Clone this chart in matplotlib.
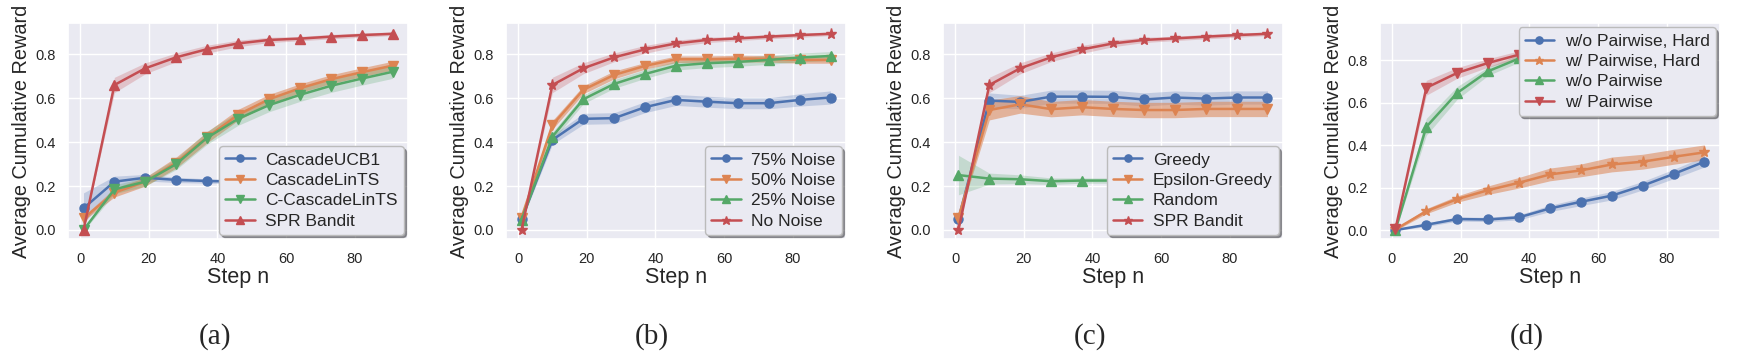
import numpy as np
import seaborn as sns
from matplotlib import pyplot as plt

sns.set_theme(style='darkgrid')
plt.rcParams['font.family'] = ['Liberation Sans', 'DejaVu Sans']

steps = [1, 10, 19, 28, 37, 46, 55, 64, 73, 82, 91]

# panel (a)
a_names = ['CascadeUCB1', 'CascadeLinTS', 'C-CascadeLinTS', 'SPR Bandit']
a_ucb = [0.099, 0.220, 0.238, 0.228, 0.223, 0.220, 0.218, 0.217, 0.216, 0.215, 0.214]
a_lints = [0.053, 0.170, 0.220, 0.307, 0.422, 0.524, 0.595, 0.645, 0.686, 0.718, 0.748]
a_clints = [0.000, 0.185, 0.220, 0.300, 0.420, 0.506, 0.568, 0.615, 0.656, 0.689, 0.720]
a_spr = [0.000, 0.660, 0.736, 0.786, 0.823, 0.849, 0.865, 0.871, 0.880, 0.887, 0.893]
a_ucb_err = [0.070, 0.025, 0.015, 0.012, 0.010, 0.010, 0.010, 0.010, 0.010, 0.010, 0.010]
a_lints_err = [0.010, 0.020, 0.020, 0.025, 0.025, 0.025, 0.022, 0.020, 0.020, 0.020, 0.020]
a_clints_err = [0.005, 0.020, 0.020, 0.025, 0.030, 0.030, 0.030, 0.030, 0.030, 0.030, 0.030]
a_spr_err = [0.000, 0.035, 0.025, 0.020, 0.018, 0.015, 0.012, 0.010, 0.010, 0.010, 0.008]

# panel (b)
b_names = ['75% Noise', '50% Noise', '25% Noise', 'No Noise']
b_75 = [0.050, 0.410, 0.506, 0.509, 0.559, 0.592, 0.584, 0.577, 0.577, 0.592, 0.603]
b_50 = [0.056, 0.478, 0.638, 0.706, 0.747, 0.777, 0.777, 0.780, 0.779, 0.774, 0.774]
b_25 = [0.046, 0.425, 0.595, 0.665, 0.710, 0.748, 0.759, 0.765, 0.774, 0.785, 0.792]
b_none = [0.000, 0.660, 0.736, 0.786, 0.822, 0.849, 0.865, 0.872, 0.880, 0.887, 0.893]
b_75_err = [0.010, 0.020, 0.025, 0.025, 0.025, 0.025, 0.025, 0.025, 0.025, 0.028, 0.030]
b_50_err = [0.010, 0.020, 0.018, 0.018, 0.015, 0.015, 0.015, 0.015, 0.015, 0.015, 0.015]
b_25_err = [0.010, 0.020, 0.020, 0.020, 0.020, 0.020, 0.020, 0.020, 0.020, 0.020, 0.020]
b_none_err = [0.000, 0.035, 0.025, 0.020, 0.018, 0.015, 0.012, 0.010, 0.010, 0.010, 0.008]

# panel (c)
c_names = ['Greedy', 'Epsilon-Greedy', 'Random', 'SPR Bandit']
c_greedy = [0.050, 0.589, 0.583, 0.607, 0.607, 0.606, 0.594, 0.603, 0.598, 0.603, 0.603]
c_eps = [0.056, 0.546, 0.572, 0.550, 0.559, 0.551, 0.546, 0.546, 0.551, 0.551, 0.551]
c_random = [0.250, 0.234, 0.231, 0.222, 0.225, 0.225, 0.224, 0.224, 0.224, 0.224, 0.224]
c_spr = [0.000, 0.660, 0.736, 0.786, 0.822, 0.849, 0.865, 0.872, 0.880, 0.887, 0.893]
c_greedy_err = [0.010, 0.035, 0.030, 0.030, 0.030, 0.030, 0.030, 0.030, 0.030, 0.030, 0.030]
c_eps_err = [0.010, 0.045, 0.040, 0.035, 0.035, 0.035, 0.035, 0.035, 0.035, 0.035, 0.035]
c_random_err = [0.090, 0.025, 0.020, 0.015, 0.012, 0.012, 0.012, 0.012, 0.012, 0.012, 0.012]
c_spr_err = [0.000, 0.035, 0.025, 0.020, 0.018, 0.015, 0.012, 0.010, 0.010, 0.010, 0.008]

# panel (d)
d_names = ['w/o Pairwise, Hard', 'w/ Pairwise, Hard', 'w/o Pairwise', 'w/ Pairwise']
d_wo_hard = [0.000, 0.025, 0.052, 0.050, 0.060, 0.102, 0.133, 0.162, 0.209, 0.264, 0.322]
d_w_hard = [0.003, 0.089, 0.146, 0.188, 0.223, 0.262, 0.281, 0.309, 0.322, 0.345, 0.366]
d_wo = [0.000, 0.486, 0.646, 0.748, 0.808, 0.840, 0.855, 0.865, 0.873, 0.880, 0.886]
d_w = [0.003, 0.670, 0.740, 0.787, 0.826, 0.850, 0.865, 0.872, 0.880, 0.887, 0.893]
d_wo_hard_err = [0.003, 0.008, 0.010, 0.010, 0.012, 0.015, 0.018, 0.020, 0.020, 0.022, 0.025]
d_w_hard_err = [0.005, 0.012, 0.015, 0.020, 0.025, 0.030, 0.030, 0.035, 0.035, 0.035, 0.035]
d_wo_err = [0.005, 0.040, 0.030, 0.020, 0.018, 0.015, 0.012, 0.010, 0.010, 0.010, 0.010]
d_w_err = [0.005, 0.035, 0.025, 0.020, 0.018, 0.015, 0.012, 0.010, 0.010, 0.010, 0.008]

colors = ['#4c72b0', '#dd8452', '#55a868', '#c44e52']

panels = [
    (a_names, [a_ucb, a_lints, a_clints, a_spr], [a_ucb_err, a_lints_err, a_clints_err, a_spr_err],
     ['o', 'v', 'v', '^'], 'lower right', (-0.041, 0.942), '(a)'),
    (b_names, [b_75, b_50, b_25, b_none], [b_75_err, b_50_err, b_25_err, b_none_err],
     ['o', 'v', '^', '*'], 'lower right', (-0.041, 0.942), '(b)'),
    (c_names, [c_greedy, c_eps, c_random, c_spr], [c_greedy_err, c_eps_err, c_random_err, c_spr_err],
     ['o', 'v', '^', '*'], 'lower right', (-0.041, 0.942), '(c)'),
    (d_names, [d_wo_hard, d_w_hard, d_wo, d_w], [d_wo_hard_err, d_w_hard_err, d_wo_err, d_w_err],
     ['o', '*', '^', 'v'], 'upper right', (-0.042, 0.975), '(d)'),
]

lefts = [0.039, 0.290, 0.5404, 0.7908]
cap_x = [0.1232, 0.3736, 0.6246, 0.875]
band_alpha = [0.25, 0.55, 0.25, 0.25]

fig = plt.figure(figsize=(17.45, 3.52), dpi=100)
x = np.array(steps)
for i, (names, ys, errs, markers, loc, ylim, cap) in enumerate(panels):
    ax = fig.add_axes([lefts[i], 0.321, 0.1948, 0.6136])
    for j in range(4):
        y = np.array(ys[j])
        e = np.array(errs[j])
        ax.fill_between(x, y - e, y + e, color=colors[j], alpha=band_alpha[j], linewidth=0)
        ms = 8 if markers[j] == '*' else 6.5
        ax.plot(x, y, marker=markers[j], color=colors[j], linewidth=1.8,
                markersize=ms, label=names[j])
    ax.set_ylim(ylim)
    ax.set_xlim(-3.5, 95.5)
    ax.set_yticks([0.0, 0.2, 0.4, 0.6, 0.8])
    ax.set_xticks([0, 20, 40, 60, 80])
    ax.tick_params(labelsize=10.5, pad=3)
    ax.set_xlabel('Step n', fontsize=15.5, labelpad=1)
    ax.set_ylabel('Average Cumulative Reward', fontsize=14.3, labelpad=3)
    leg = ax.legend(loc=loc, fontsize=12.5, frameon=True, shadow=True, fancybox=True,
                    borderaxespad=0.25, handlelength=1.7, handletextpad=0.6,
                    markerscale=0.8, labelspacing=0.3, borderpad=0.35)
    leg.get_frame().set_edgecolor('#bbbbbb')
    fig.text(cap_x[i], 0.043, cap, fontsize=21, family='Liberation Serif',
             ha='center', va='center')

fig.savefig('out.png', dpi=100)
